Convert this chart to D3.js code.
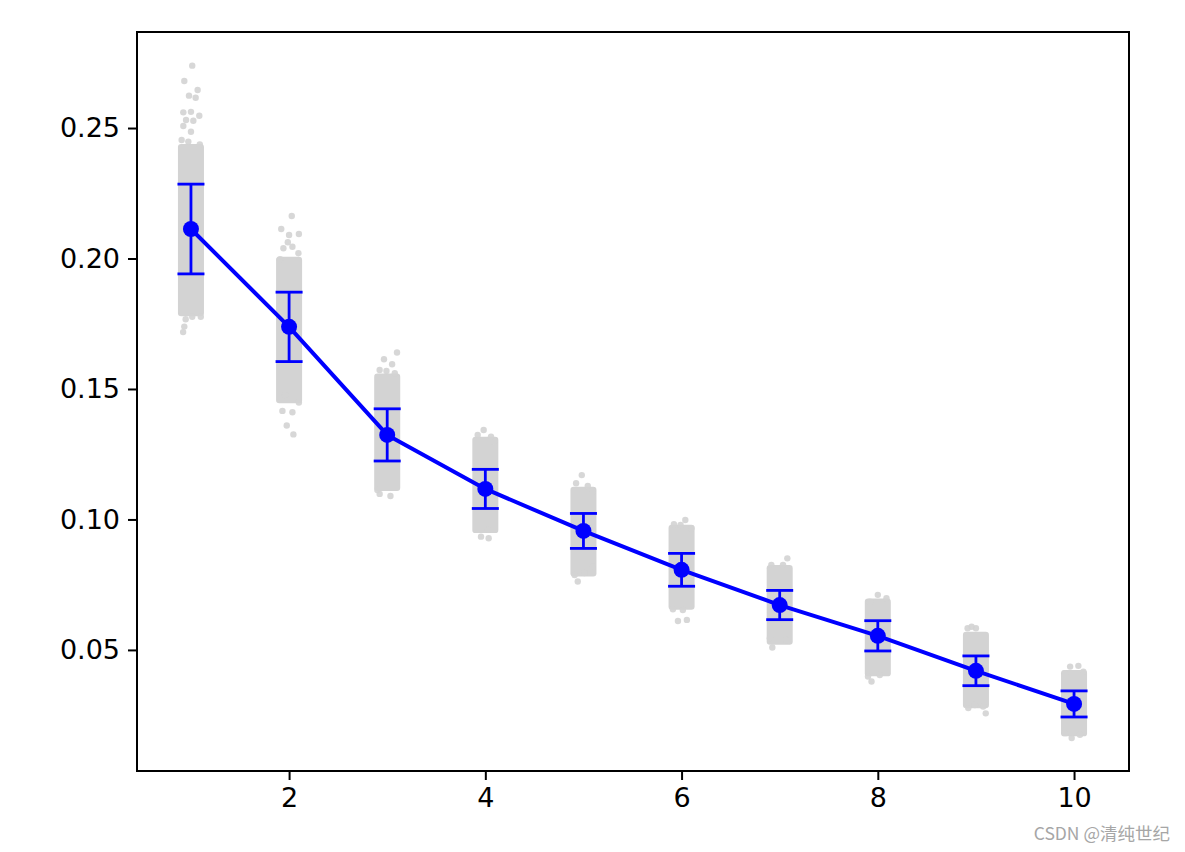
<!DOCTYPE html>
<html>
<head>
<meta charset="utf-8">
<script src="https://cdn.jsdelivr.net/npm/d3@7"></script>
<style>
  html, body { margin: 0; padding: 0; background: #fff; }
  svg { display: block; }
</style>
</head>
<body>
<svg id="chart" width="1185" height="852"></svg>
<script>
// ---- data ----
const groups = [1, 2, 3, 4, 5, 6, 7, 8, 9, 10];
const means  = [0.2113, 0.1738, 0.1324, 0.1117, 0.0956, 0.0807, 0.0672, 0.0554, 0.0420, 0.0293];
const stds   = [0.0172, 0.0133, 0.0100, 0.0075, 0.0067, 0.0063, 0.0056, 0.0058, 0.0057, 0.0050];
// dense part of each jittered cloud (lower / upper value)
const cloudLow  = [0.1791, 0.1458, 0.1121, 0.0960, 0.0794, 0.0666, 0.0532, 0.0411, 0.0289, 0.0181];
const cloudHigh = [0.2427, 0.1994, 0.1547, 0.1305, 0.1113, 0.0967, 0.0813, 0.0685, 0.0557, 0.0411];
// sparse individual points outside the dense part: [group, jitter, value]
const strayPoints = [
  [1, 0.013, 0.2739], [1, -0.068, 0.2680], [1, 0.068, 0.2646], [1, -0.020, 0.2624], [1, 0.048, 0.2616],
  [1, -0.078, 0.2560], [1, 0.000, 0.2562], [1, 0.085, 0.2547], [1, -0.050, 0.2531], [1, 0.024, 0.2528],
  [1, -0.078, 0.2508], [1, 0.000, 0.2486], [1, -0.095, 0.2454], [1, 0.090, 0.2437], [1, -0.027, 0.2448],
  [1, -0.054, 0.1767], [1, 0.013, 0.1777], [1, 0.100, 0.1777], [1, -0.068, 0.1739], [1, -0.080, 0.1718],
  [2, 0.027, 0.2163], [2, -0.080, 0.2113], [2, 0.100, 0.2094], [2, 0.000, 0.2090], [2, -0.013, 0.2062],
  [2, 0.034, 0.2045], [2, -0.058, 0.2039], [2, 0.095, 0.2020], [2, -0.092, 0.1997],
  [2, -0.040, 0.1477], [2, 0.100, 0.1448], [2, -0.068, 0.1416], [2, 0.034, 0.1411], [2, -0.024, 0.1360], [2, 0.044, 0.1326],
  [3, 0.100, 0.1640], [3, -0.033, 0.1614], [3, 0.050, 0.1595], [3, -0.077, 0.1573], [3, -0.008, 0.1569], [3, 0.077, 0.1560],
  [3, -0.077, 0.1098], [3, 0.033, 0.1090], [3, -0.100, 0.1113],
  [4, -0.017, 0.1343], [4, 0.058, 0.1317], [4, -0.078, 0.1324], [4, 0.092, 0.1298],
  [4, 0.024, 0.0960], [4, -0.044, 0.0934], [4, 0.034, 0.0928],
  [5, -0.017, 0.1170], [5, -0.075, 0.1139], [5, 0.044, 0.1128], [5, 0.095, 0.1107],
  [5, -0.090, 0.0787], [5, -0.058, 0.0762], [5, 0.095, 0.0819], [5, 0.010, 0.0795],
  [6, -0.078, 0.0982], [6, 0.038, 0.0998], [6, -0.010, 0.0979], [6, 0.100, 0.0966],
  [6, -0.088, 0.0656], [6, 0.013, 0.0653], [6, -0.037, 0.0611], [6, 0.054, 0.0615],
  [7, 0.078, 0.0851], [7, -0.085, 0.0826], [7, 0.034, 0.0826],
  [7, -0.075, 0.0509], [7, 0.068, 0.0538], [7, -0.100, 0.0545],
  [8, 0.000, 0.0711], [8, 0.088, 0.0698], [8, -0.080, 0.0685],
  [8, -0.064, 0.0379], [8, 0.020, 0.0404], [8, -0.100, 0.0398],
  [9, -0.085, 0.0583], [9, 0.000, 0.0583], [9, -0.044, 0.0589],
  [9, -0.078, 0.0277], [9, -0.010, 0.0289], [9, 0.100, 0.0257], [9, 0.074, 0.0283],
  [10, -0.040, 0.0436], [10, 0.044, 0.0439], [10, 0.095, 0.0417], [10, -0.092, 0.0411],
  [10, -0.024, 0.0162], [10, 0.060, 0.0175], [10, -0.092, 0.0181]
];
const xTicks = [2, 4, 6, 8, 10];
const yTicks = [0.05, 0.10, 0.15, 0.20, 0.25];
const watermark = "CSDN @清纯世纪";

// ---- layout ----
const plotLeft = 137, plotRight = 1129, plotTop = 32, plotBottom = 771;
const font = "'DejaVu Sans', sans-serif";
const svg = d3.select("#chart");

const x = d3.scaleLinear().domain([0.45, 10.56]).range([plotLeft, plotRight]);
const y = d3.scaleLinear().domain([0.0036, 0.2868]).range([plotBottom, plotTop]);

const jitterHalf = 0.1;
const ptR = 3.2;
const grey = "#d3d3d3";

// dense clouds
svg.append("g").selectAll("rect").data(groups).join("rect")
  .attr("x", (g) => x(g - jitterHalf) - ptR)
  .attr("width", (g) => x(g + jitterHalf) - x(g - jitterHalf) + 2 * ptR)
  .attr("y", (g, i) => y(cloudHigh[i]) - ptR)
  .attr("height", (g, i) => y(cloudLow[i]) - y(cloudHigh[i]) + 2 * ptR)
  .attr("rx", ptR)
  .attr("fill", grey);

// stray points
svg.append("g").selectAll("circle").data(strayPoints).join("circle")
  .attr("cx", (d) => x(d[0] + d[1]))
  .attr("cy", (d) => y(d[2]))
  .attr("r", ptR)
  .attr("fill", grey)
  .attr("fill-opacity", 0.9);

// error bars
const blue = "#0000ff";
const eb = svg.append("g");
groups.forEach((g, i) => {
  const cx = x(g);
  eb.append("line").attr("x1", cx).attr("x2", cx)
    .attr("y1", y(means[i] - stds[i])).attr("y2", y(means[i] + stds[i]))
    .attr("stroke", blue).attr("stroke-width", 2.8);
  [means[i] - stds[i], means[i] + stds[i]].forEach((v) => {
    eb.append("line").attr("x1", cx - 13.5).attr("x2", cx + 13.5)
      .attr("y1", y(v)).attr("y2", y(v))
      .attr("stroke", blue).attr("stroke-width", 2.8);
  });
});

// mean line
const line = d3.line().x((d) => x(d)).y((d, i) => y(means[i]));
svg.append("path").datum(groups).attr("d", line)
  .attr("fill", "none").attr("stroke", blue).attr("stroke-width", 4)
  .attr("stroke-linejoin", "round").attr("stroke-linecap", "butt");

// mean markers
svg.append("g").selectAll("circle").data(groups).join("circle")
  .attr("cx", (g) => x(g)).attr("cy", (g, i) => y(means[i]))
  .attr("r", 8).attr("fill", blue);

// axes
const xAxis = d3.axisBottom(x).tickValues(xTicks).tickFormat(d3.format("d"))
  .tickSize(9).tickPadding(8);
const yAxis = d3.axisLeft(y).tickValues(yTicks).tickFormat(d3.format(".2f"))
  .tickSize(9).tickPadding(8);

const gx = svg.append("g").attr("transform", `translate(0,${plotBottom})`).call(xAxis);
const gy = svg.append("g").attr("transform", `translate(${plotLeft},0)`).call(yAxis);
[gx, gy].forEach((g) => {
  g.select(".domain").remove();
  g.selectAll(".tick line").attr("stroke", "#000").attr("stroke-width", 2);
  g.selectAll(".tick text").attr("fill", "#000")
    .style("font-family", font).style("font-size", "27px");
});

// frame
svg.append("rect").attr("x", plotLeft).attr("y", plotTop)
  .attr("width", plotRight - plotLeft).attr("height", plotBottom - plotTop)
  .attr("fill", "none").attr("stroke", "#000").attr("stroke-width", 2);

// watermark
svg.append("text").attr("x", 1170).attr("y", 840)
  .attr("text-anchor", "end").attr("fill", "#a6a6a6")
  .style("font-family", "'Noto Sans CJK SC', 'Noto Sans', sans-serif").style("font-size", "17.5px")
  .text(watermark);
</script>
</body>
</html>
